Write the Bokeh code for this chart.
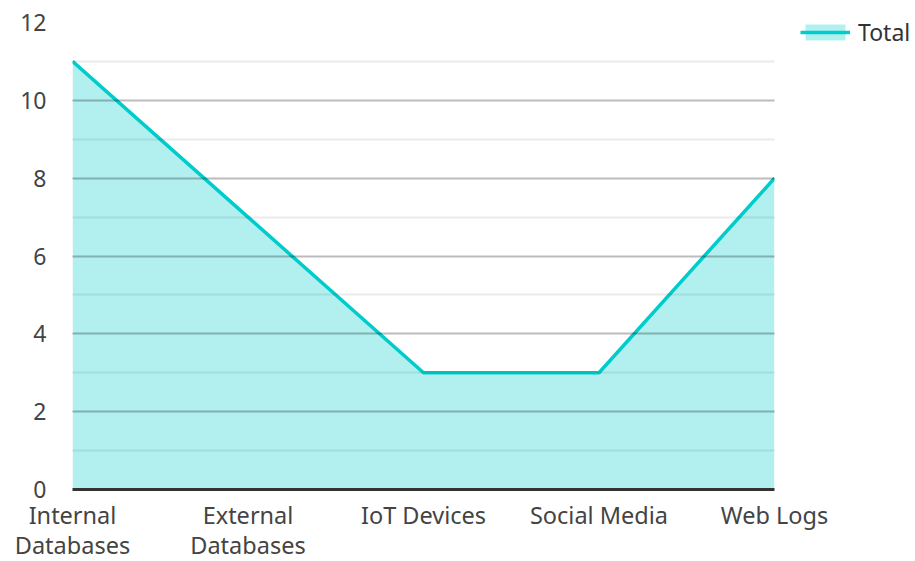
from bokeh.plotting import figure
from bokeh.models import (ColumnDataSource, FixedTicker, SingleIntervalTicker, Range1d,
                          Legend, LegendItem)
from bokeh.embed import file_html
from bokeh.resources import INLINE

categories = ["Internal\nDatabases", "External\nDatabases", "IoT Devices", "Social Media", "Web Logs"]
values = [11, 7, 3, 3, 8]
series_name = "Total"

xs = list(range(len(categories)))
src = ColumnDataSource(dict(x=xs, y=values, y0=[0] * len(values)))

FONT = "Noto Sans"
LINE = "#00cccc"

p = figure(frame_width=702, frame_height=467, output_backend="svg", toolbar_location=None,
           x_range=Range1d(0, len(categories) - 1), y_range=Range1d(0, 12),
           min_border_left=72, min_border_right=0, min_border_top=22, min_border_bottom=70)
p.outline_line_color = None
p.background_fill_color = "white"
p.border_fill_color = "white"

area = p.varea(x="x", y1="y0", y2="y", source=src, fill_color=LINE, fill_alpha=0.3)
line = p.line(x="x", y="y", source=src, line_color=LINE, line_width=3.5)

p.xaxis.ticker = FixedTicker(ticks=xs)
p.xaxis.major_label_overrides = {i: c for i, c in enumerate(categories)}
p.yaxis.ticker = SingleIntervalTicker(interval=2, num_minor_ticks=2)

for ax in (p.xaxis, p.yaxis):
    ax.major_tick_line_color = None
    ax.minor_tick_line_color = None
    ax.major_label_text_font = FONT
    ax.major_label_text_font_size = "23px"
    ax.major_label_text_color = "#444444"
p.xaxis.major_label_text_font_size = "23.5px"
p.xaxis.major_label_text_line_height = 0.95
p.yaxis.axis_line_color = None
p.xaxis.axis_line_color = "#333333"
p.xaxis.axis_line_width = 3
p.xaxis.major_label_standoff = 3
p.yaxis.major_label_standoff = 20

p.xgrid.grid_line_color = None
p.ygrid.grid_line_color = "black"
p.ygrid.grid_line_alpha = 0.2
p.ygrid.grid_line_width = 2
p.ygrid.minor_grid_line_color = "black"
p.ygrid.minor_grid_line_alpha = 0.08
p.ygrid.minor_grid_line_width = 2
p.ygrid.level = "overlay"

legend = Legend(items=[LegendItem(label=series_name, renderers=[area, line])],
                location=(26, 441), border_line_color=None, background_fill_alpha=0,
                label_text_font=FONT, label_text_font_size="23px", label_text_color="#333333",
                glyph_width=50, glyph_height=20, padding=0, margin=0, spacing=0,
                label_standoff=8)
p.add_layout(legend, "right")

open("out.html", "w").write(file_html(p, INLINE))
